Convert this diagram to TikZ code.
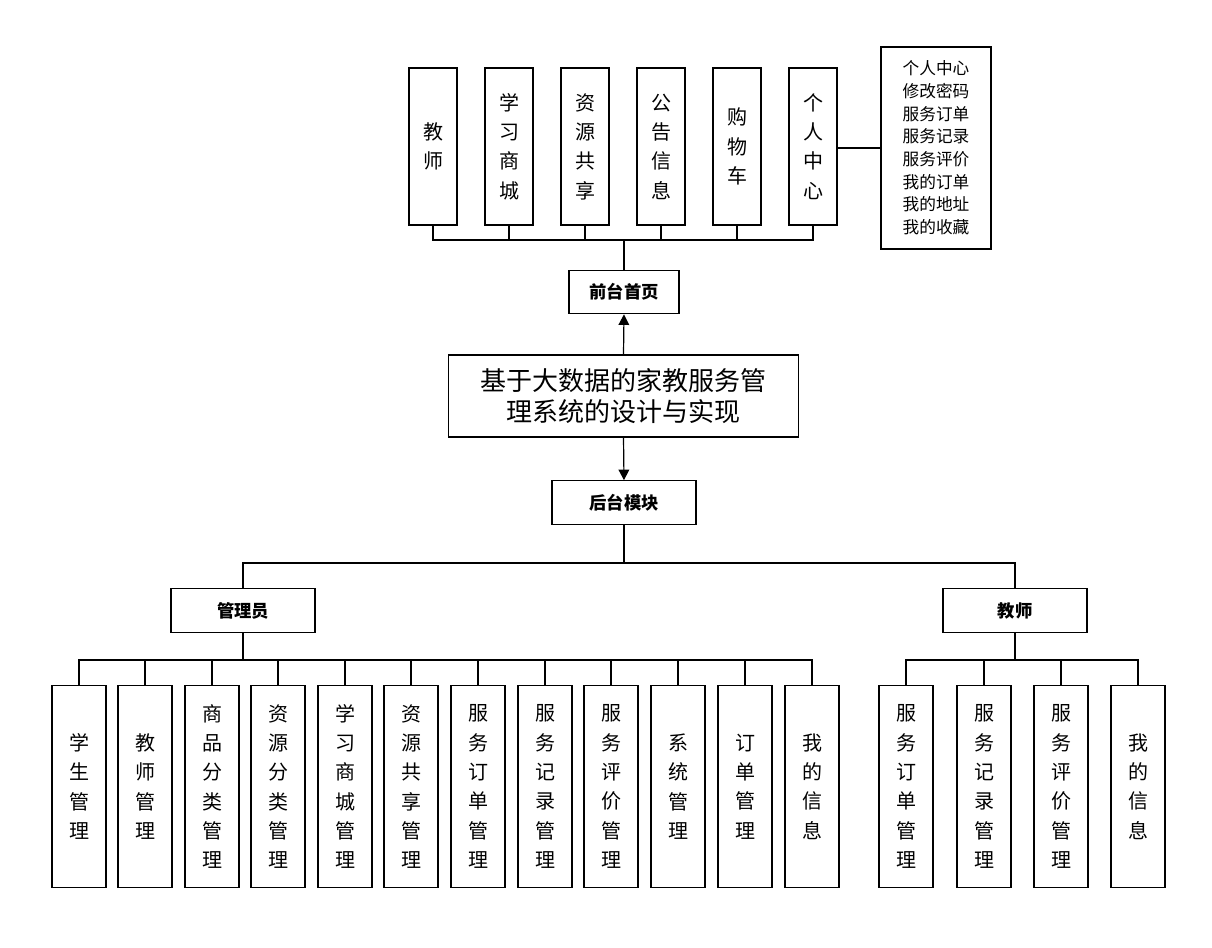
\documentclass[tikz,border=0pt]{standalone}
\usepackage{fontspec}
\setmainfont{Noto Sans CJK SC}
\usetikzlibrary{arrows.meta}
\begin{document}
\begin{tikzpicture}[x=0.75pt,y=-0.75pt,
 box/.style={draw,line width=0.9pt,fill=white,inner sep=0pt,align=center},
 tbox/.style={box,minimum width=36pt,minimum height=117.75pt,font=\fontsize{15}{22}\selectfont},
 bbox/.style={box,minimum width=40.5pt,minimum height=152pt,font=\fontsize{15}{22}\selectfont},
 lbl/.style={box,minimum height=32.5pt,font=\fontsize{13}{16}\selectfont\bfseries},
 ln/.style={line width=0.9pt},
 arr/.style={ln,-{Triangle[length=8pt,width=8pt]}}]
\useasboundingbox (0,0) rectangle (1212,947);
% top
\foreach \n/\x/\t in {t1/433/教\\师, t2/509/学\\习\\商\\城, t3/585/资\\源\\共\\享, t4/661/公\\告\\信\\息, t5/737/购\\物\\车, t6/813/个\\人\\中\\心}
  \node[tbox] (\n) at (\x,146.5) {\t};
\node[box,minimum width=82.5pt,minimum height=151.5pt,font=\fontsize{12.5}{17}\selectfont] (list) at (936,148)
 {个人中心\\修改密码\\服务订单\\服务记录\\服务评价\\我的订单\\我的地址\\我的收藏};
\draw[ln] (t6.east|-0,148) -- (list.west|-0,148);
\node[lbl,minimum width=82.5pt] (front) at (624,292) {前台首页};
\coordinate (tb) at (624,240);
\draw[ln] (t1.south) -- (t1.south|-tb) -- (t6.south|-tb) -- (t6.south);
\foreach \n in {t2,t3,t4,t5} \draw[ln] (\n.south) -- (\n.south|-tb);
\draw[ln] (tb) -- (front.north);
% title
\node[box,minimum width=263pt,minimum height=61.5pt,font=\fontsize{19.5}{23}\selectfont] (title) at (623.5,396)
 {基于大数据的家教服务管\\理系统的设计与实现};
\draw[arr] (title.north) -- (front.south);
\node[lbl,minimum width=108pt] (back) at (624,502.5) {后台模块};
\draw[arr] (title.south) -- (back.north);
\node[lbl,minimum width=108pt] (admin) at (243,610.5) {管理员};
\node[lbl,minimum width=108pt] (teach) at (1015,610.5) {教师};
\coordinate (mb) at (624,563);
\draw[ln] (back.south) -- (mb);
\draw[ln] (admin.north) -- (admin.north|-mb) -- (teach.north|-mb) -- (teach.north);
% admin children
\foreach \n/\x/\t in {a1/79/学\\生\\管\\理, a2/145/教\\师\\管\\理, a3/212/商\\品\\分\\类\\管\\理, a4/278/资\\源\\分\\类\\管\\理, a5/345/学\\习\\商\\城\\管\\理, a6/411/资\\源\\共\\享\\管\\理, a7/478/服\\务\\订\\单\\管\\理, a8/545/服\\务\\记\\录\\管\\理, a9/611/服\\务\\评\\价\\管\\理, a10/678/系\\统\\管\\理, a11/745/订\\单\\管\\理, a12/812/我\\的\\信\\息}
  \node[bbox] (\n) at (\x,786.5) {\t};
\coordinate (ab) at (243,660);
\draw[ln] (admin.south) -- (ab);
\draw[ln] (a1.north) -- (a1.north|-ab) -- (a12.north|-ab) -- (a12.north);
\foreach \n in {a2,a3,a4,a5,a6,a7,a8,a9,a10,a11} \draw[ln] (\n.north) -- (\n.north|-ab);
% teacher children
\foreach \n/\x/\t in {b1/906/服\\务\\订\\单\\管\\理, b2/984/服\\务\\记\\录\\管\\理, b3/1061/服\\务\\评\\价\\管\\理, b4/1138/我\\的\\信\\息}
  \node[bbox] (\n) at (\x,786.5) {\t};
\coordinate (bb) at (1015,660);
\draw[ln] (teach.south) -- (bb);
\draw[ln] (b1.north) -- (b1.north|-bb) -- (b4.north|-bb) -- (b4.north);
\foreach \n in {b2,b3} \draw[ln] (\n.north) -- (\n.north|-bb);
\end{tikzpicture}
\end{document}
